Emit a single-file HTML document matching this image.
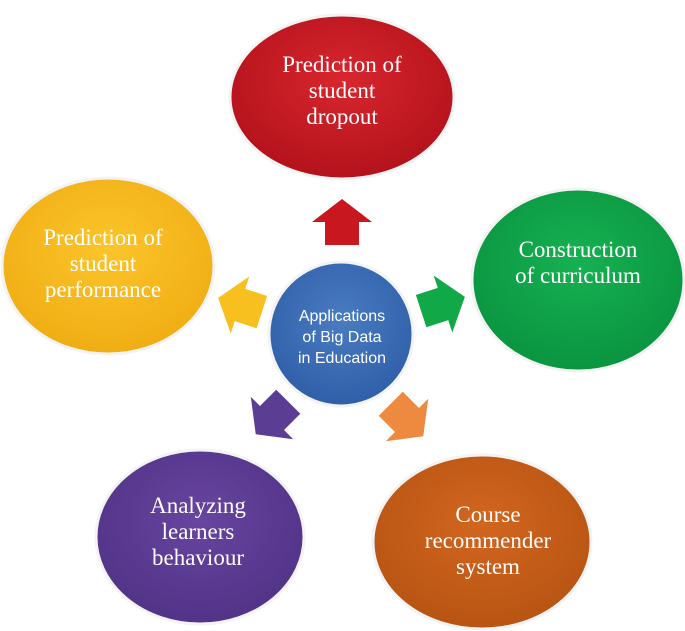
<!DOCTYPE html>
<html><head><style>body{margin:0;background:#fff}svg{display:block}</style></head><body>
<svg width="685" height="631" viewBox="0 0 685 631" xmlns="http://www.w3.org/2000/svg">
<defs>
<radialGradient id="gr" cx="50%" cy="40%" r="60%"><stop offset="0" stop-color="#d8262e"/><stop offset="1" stop-color="#b3121b"/></radialGradient>
<radialGradient id="gg" cx="50%" cy="40%" r="60%"><stop offset="0" stop-color="#16b152"/><stop offset="1" stop-color="#0a9440"/></radialGradient>
<radialGradient id="gy" cx="50%" cy="40%" r="60%"><stop offset="0" stop-color="#fbc52a"/><stop offset="1" stop-color="#f0ad14"/></radialGradient>
<radialGradient id="gp" cx="50%" cy="40%" r="60%"><stop offset="0" stop-color="#6845a0"/><stop offset="1" stop-color="#513387"/></radialGradient>
<radialGradient id="go" cx="50%" cy="40%" r="60%"><stop offset="0" stop-color="#d2661f"/><stop offset="1" stop-color="#b85413"/></radialGradient>
<radialGradient id="gb" cx="50%" cy="40%" r="60%"><stop offset="0" stop-color="#4a7cc2"/><stop offset="1" stop-color="#2f5fa8"/></radialGradient>
<path id="arr" d="M0,-23 L30,0 L17,0 L17,23 L-17,23 L-17,0 L-30,0 Z"/>
</defs>
<g stroke="#f3f3f3" stroke-width="3">
<ellipse cx="342" cy="97" rx="112" ry="82" fill="url(#gr)"/>
<ellipse cx="578" cy="280" rx="106" ry="91" fill="url(#gg)"/>
<ellipse cx="108" cy="266" rx="106" ry="88" fill="url(#gy)"/>
<ellipse cx="200" cy="537" rx="104" ry="87" fill="url(#gp)"/>
<ellipse cx="482" cy="542" rx="109" ry="87" fill="url(#go)"/>
<circle cx="341" cy="334" r="72" fill="url(#gb)"/>
</g>
<use href="#arr" transform="translate(342,222)" fill="#c8171f"/>
<use href="#arr" transform="translate(443,304) rotate(72)" fill="#11a848"/>
<use href="#arr" transform="translate(240,305) rotate(-72)" fill="#f7c01e"/>
<use href="#arr" transform="translate(272,418) rotate(-135)" fill="#5b3d93"/>
<use href="#arr" transform="translate(407,420) rotate(135)" fill="#ee8a40"/>
<g fill="#fff" font-family="Liberation Serif, serif" font-size="23" text-anchor="middle">
<text x="342" y="72">Prediction of</text><text x="342" y="98">student</text><text x="342" y="124">dropout</text>
<text x="578" y="257">Construction</text><text x="578" y="283">of curriculum</text>
<text x="103" y="245">Prediction of</text><text x="103" y="271">student</text><text x="103" y="297">performance</text>
<text x="198" y="513">Analyzing</text><text x="198" y="539">learners</text><text x="198" y="565">behaviour</text>
<text x="488" y="522">Course</text><text x="488" y="548">recommender</text><text x="488" y="574">system</text>
</g>
<g fill="#fff" font-family="Liberation Sans, sans-serif" font-size="16" text-anchor="middle">
<text x="342" y="321">Applications</text><text x="342" y="342">of Big Data</text><text x="342" y="363">in Education</text>
</g>
</svg>
</body></html>
